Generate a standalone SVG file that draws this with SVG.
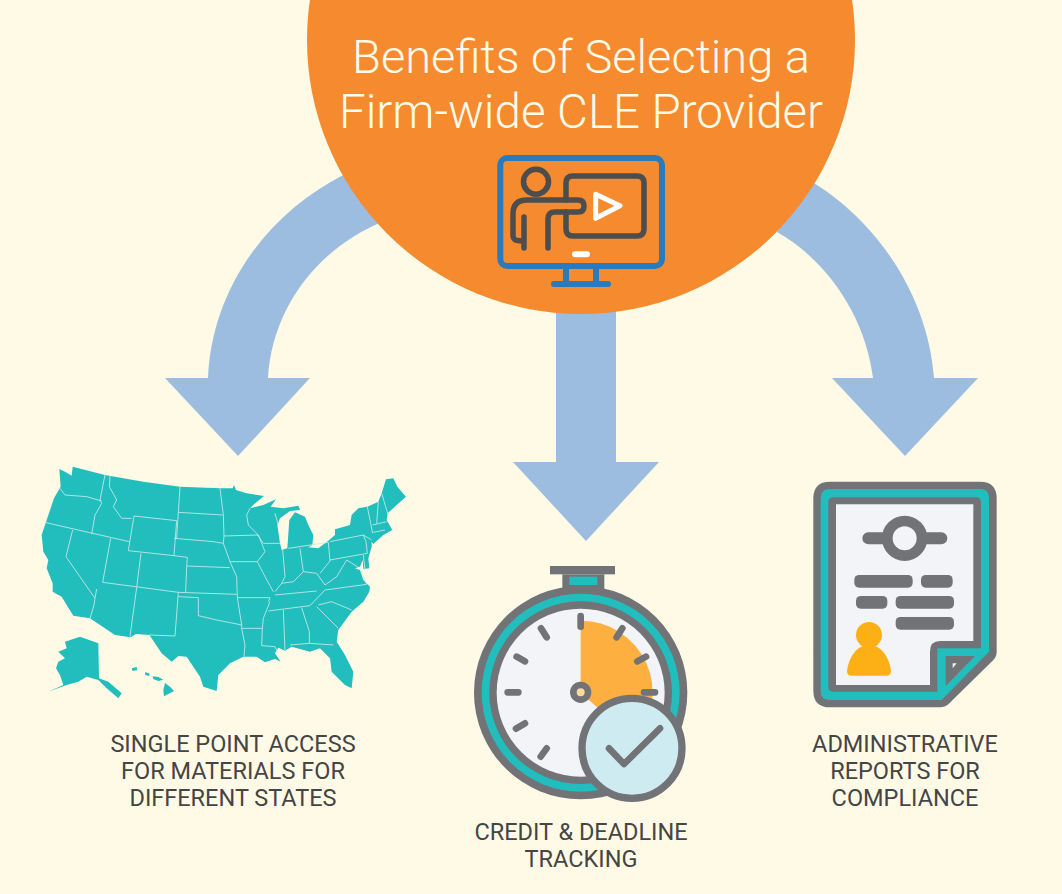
<svg xmlns="http://www.w3.org/2000/svg" width="1062" height="894" viewBox="0 0 1062 894">
<style>
.title{font-family:Roboto,"Liberation Sans",sans-serif;font-weight:300;font-size:47px;fill:#fffbe8;text-anchor:middle}
.label{font-family:Roboto,"Liberation Sans",sans-serif;font-weight:400;font-size:23.500px;fill:#454545;text-anchor:middle}
.arrow{fill:#9dbde0}
.blue{fill:none;stroke:#2a7bbd;stroke-width:6;stroke-linecap:round}
.dark{fill:none;stroke:#4d4d4d;stroke-width:5.500;stroke-linecap:round;stroke-linejoin:round}
.wh{fill:none;stroke:#fff;stroke-linecap:round;stroke-linejoin:round}
.st{fill:none;stroke:#c8ede8;stroke-width:2.500;stroke-linejoin:round}
.teal{fill:#22bdbd}
.g{fill:#727376}
.tick{fill:none;stroke:#727376;stroke-width:20;stroke-linecap:round;stroke-linejoin:round}
</style>
<rect width="1062" height="894" fill="#fefae6"/>
<g id="connectors">
<path class="arrow" d="M345,174C265,215 212,290 208,378H165L238,456L310,378H268C272,310 315,250 382,222Z"/>
<path class="arrow" d="M556,300H616V462H659L586,541L513,462H556Z"/>
<path class="arrow" d="M800,175C875,215 928,295 934,378H978L905,456L832,378H873C866,320 830,262 777,232Z"/>
</g>
<g id="header">
<circle cx="581" cy="40" r="274" fill="#f58a2e"/>
<text class="title" x="581" y="73">Benefits of Selecting a</text>
<text class="title" x="581" y="128" style="font-size:47.500px">Firm-wide CLE Provider</text>
<rect class="blue" x="500.300" y="158" width="161.700" height="108" rx="7"/>
<path class="blue" d="M566,266V284M596,266V284M554,284H608"/>
<circle class="dark" cx="536" cy="181.700" r="12.500"/>
<path class="dark" d="M566,200V183Q566,176 573,176H637Q644,176 644,183V229Q644,236 637,236H573Q566,236 566,229V212"/>
<path class="dark" d="M522,241Q513,241 513,236V214Q513,200 527,200H578Q584,200 584,206Q584,212 578,212H555Q548,212 548,219V248M524,217V248"/>
<path class="wh" stroke-width="5" d="M595.700,194.300L620,205.700L595.700,218.300Z"/>
<path class="wh" stroke-width="6" d="M575,254.300H587"/>
</g>
<g id="map" transform="translate(30 455) scale(.33333)">
<path class="teal" d="M88,42L105,50L125,62L128,35L225,60L340,80L450,95L570,100L608,100L612,90L618,105L650,115L702,123L672,148L660,160L700,150L738,133L722,155L760,160L805,152L810,165L780,168L750,190L742,210L750,265L755,285L772,280L778,195L795,172L825,185L835,210L850,240L847,270L835,277L865,280L895,257L915,240L915,223L960,210L965,180L985,160L1012,155L1045,140L1055,115L1068,73L1090,70L1102,95L1128,125L1100,150L1073,175L1070,195L1087,225L1060,240L1030,267L1025,260L1025,275L1015,310L1018,340L1000,342L998,315L990,335L975,340L990,345L1000,375L1020,395L1018,410L1000,440L965,470L925,525L920,560L945,600L970,650L965,700L945,690L905,650L900,610L870,580L840,590L785,575L765,587L745,578L735,595L752,620L735,612L705,622L680,605L640,605L600,625L565,660L560,708L520,695L510,665L470,605L445,603L425,620L395,595L375,565L358,540L318,537L302,547L255,540L180,490L130,482L95,425L68,410L68,385L50,340L55,315L40,290L35,240L50,195L72,130L92,95Z"/>
<path class="teal" d="M105,560L150,545L205,565L207,670L235,680L275,715L265,730L230,700L205,675L170,665L145,680L110,690L55,710L100,690L90,660L78,640L85,620L105,610L85,590L110,580Z"/>
<path class="teal" d="M305,640L320,636L322,645L308,648ZM345,652L358,655L358,663L346,660ZM368,664L385,666L400,674L385,678L370,672ZM405,684L420,695L432,708L402,724L400,705Z"/>
<path class="st" d="M90,100L105,120L170,125L215,138M225,60L210,135L215,145L195,180L185,238M240,62L238,95L260,135L250,155L275,190L305,190M312,183L440,197L432,302L295,287ZM48,203L298,260M128,225L108,305L195,430L200,402M195,430L192,450L180,490M242,250L218,382M333,295L320,398M218,382L445,412L620,418M320,398L300,545M445,412L435,543L358,540M445,425L505,428L505,482L560,495L635,510M432,302L472,307L470,335L467,412M470,333L600,338M432,250L550,260L580,265L600,320M445,172L578,180M450,95L445,172L440,250M570,100L580,180L582,243L580,265M582,243L685,240M660,160L650,180L655,210L680,235L700,265M700,265L750,265M735,175L745,210M685,240L705,290L682,320L600,320M600,320L620,365L622,428L720,428L715,440M682,320L705,365L730,410M758,285L765,365L755,385L735,410M622,428L635,510L635,520L645,570L642,605M635,520L697,520M697,520L695,572L735,575L745,595M720,440L700,490L697,520M715,468L840,452L885,405L1010,388M735,420L860,408M760,465L765,585M815,458L838,530L838,565M780,570L838,565L910,570M860,455L925,520M865,450L905,440L965,465M810,280L820,350M775,280L895,262L900,318L870,355M755,385L790,380L820,350L860,355L885,390L920,365L950,315L990,340L1010,388M900,260L1000,240L1008,260L1012,295L900,315M1000,240L1025,255M1012,155L1028,235M1045,140L1040,205M1055,115L1073,175M1028,210L1070,200M1030,232L1065,225M1000,300L1005,345"/>
</g>
<g id="clock" transform="translate(460 560) scale(.33333)">
<rect class="g" x="270" y="18" width="195" height="25"/>
<rect class="g" x="307" y="43" width="126" height="50"/>
<rect class="teal" x="328" y="50" width="84" height="25"/>
<circle class="g" cx="362" cy="398" r="320"/>
<circle class="teal" cx="362" cy="398" r="297"/>
<circle class="g" cx="362" cy="398" r="274"/>
<circle cx="362" cy="398" r="252" fill="#f3f4f7"/>
<path d="M362,398V182A216,216 0 0 1 524,541Z" fill="#fdb03f"/>
<path class="tick" d="M362,168V200M243,205L260,232M170,290L195,304M143,397H175M168,506L195,490M242,590L260,565M470,232L487,205M532,304L558,290M552,397H585"/>
<circle cx="362" cy="397" r="22" fill="#fdd9a0" stroke="#727376" stroke-width="20"/>
<circle cx="516" cy="565" r="150" fill="#cfebf2" stroke="#727376" stroke-width="22"/>
<path class="tick" d="M447,565L492,612L600,505"/>
</g>
<g id="report" transform="translate(800 470) scale(.33333)">
<path class="g" d="M90,35H540Q590,35 590,85V545Q590,560 580,570L445,703Q435,712 420,712H90Q40,712 40,662V85Q40,35 90,35Z"/>
<path class="teal" d="M90,57H540Q567,57 567,85V545L425,690H90Q62,690 62,662V85Q62,57 90,57Z"/>
<path class="g" d="M100,82H528Q543,82 543,97V535H412V665H100Q85,665 85,650V97Q85,82 100,82Z"/>
<path d="M108,103H520V513H420Q390,513 390,545V645H108Z" fill="#f3f4f7"/>
<path class="g" d="M437,558H525L437,648Z"/>
<path d="M458,580H470L458,595Z" fill="#f3f4f7"/>
<circle cx="314" cy="205" r="52" fill="none" stroke="#727376" stroke-width="32"/>
<path d="M205,205H250M380,205H424" fill="none" stroke="#727376" stroke-width="36" stroke-linecap="round"/>
<rect class="g" x="163" y="315" width="175" height="38" rx="14"/>
<rect class="g" x="363" y="315" width="95" height="38" rx="14"/>
<rect class="g" x="168" y="378" width="94" height="38" rx="14"/>
<rect class="g" x="287" y="378" width="175" height="38" rx="14"/>
<rect class="g" x="287" y="441" width="175" height="38" rx="14"/>
<circle cx="207" cy="495" r="39" fill="#fdb016"/>
<path d="M207,525C165,525 145,570 141,603Q141,617 155,617H259Q273,617 273,603C269,570 249,525 207,525Z" fill="#fdb016"/>
</g>
<g id="labels">
<text class="label" x="233" y="752">SINGLE POINT ACCESS</text>
<text class="label" x="233" y="779">FOR MATERIALS FOR</text>
<text class="label" x="233" y="806">DIFFERENT STATES</text>
<text class="label" x="581" y="840">CREDIT &amp; DEADLINE</text>
<text class="label" x="581" y="867">TRACKING</text>
<text class="label" x="905" y="752">ADMINISTRATIVE</text>
<text class="label" x="905" y="779">REPORTS FOR</text>
<text class="label" x="905" y="806">COMPLIANCE</text>
</g>
</svg>
